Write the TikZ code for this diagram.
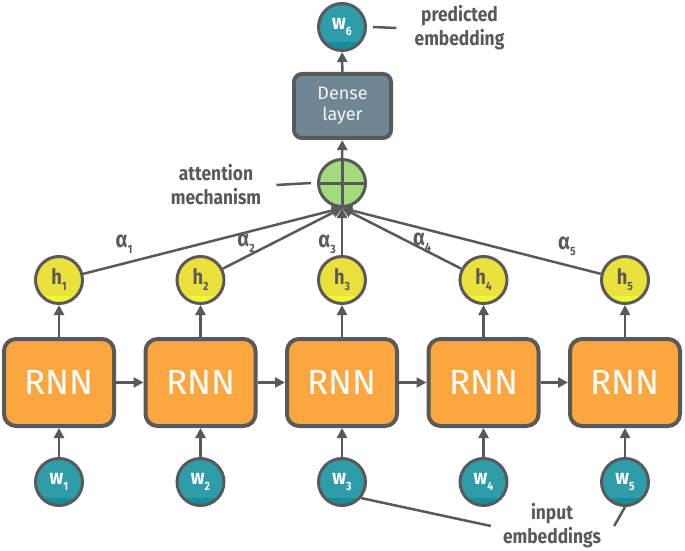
\documentclass[tikz,border=0pt]{standalone}
\usepackage{fontspec}
\setmainfont{Fira Sans}
\newfontfamily\tagfont[FakeStretch=0.87]{Fira Sans}
\usetikzlibrary{arrows.meta}

\definecolor{edgegray}{HTML}{595959}
\definecolor{rnnorange}{HTML}{FBA63E}
\definecolor{hyellow}{HTML}{EBE13C}
\definecolor{hband}{HTML}{EEF63A}
\definecolor{wteal}{HTML}{2E9DA9}
\definecolor{wband}{HTML}{138F9C}
\definecolor{attgreen}{HTML}{A2DA7E}
\definecolor{densegray}{HTML}{6F8794}

% letter with a small lowered index
\newcommand{\vsub}[2]{#1\raisebox{-6pt}{\fontsize{12}{12}\selectfont #2}}

\tikzset{
  rnnbox/.style={draw=edgegray, line width=4pt, fill=rnnorange, rounded corners=12pt,
    minimum width=110pt, minimum height=87pt, text=white, font=\fontsize{35}{35}\selectfont},
  hidden/.style={circle, draw=edgegray, line width=3pt, fill=hyellow, minimum size=47pt,
    inner sep=0pt, text=edgegray, font=\tagfont\bfseries\fontsize{21}{21}\selectfont,
    path picture={\fill[hband] (path picture bounding box.south west) rectangle
      ([yshift=8pt]path picture bounding box.south east);}},
  wordvec/.style={circle, draw=edgegray, line width=3pt, fill=wteal, minimum size=47pt,
    inner sep=0pt, text=white, font=\tagfont\bfseries\fontsize{21}{21}\selectfont,
    path picture={\fill[wband] (path picture bounding box.south west) rectangle
      ([yshift=8pt]path picture bounding box.south east);}},
  attnode/.style={circle, draw=edgegray, line width=3pt, fill=attgreen, minimum size=47pt,
    path picture={\draw[edgegray, line width=3pt]
      (path picture bounding box.north) -- (path picture bounding box.south)
      (path picture bounding box.west) -- (path picture bounding box.east);}},
  densebox/.style={draw=edgegray, line width=4pt, fill=densegray, rounded corners=8pt,
    minimum width=97pt, minimum height=64pt, align=center, text=white!92!densegray,
    font=\fontsize{18}{21}\selectfont},
  conn/.style={-{Triangle[length=10pt,width=10pt]}, line width=2.5pt, draw=edgegray},
  tagline/.style={line width=2.5pt, draw=edgegray},
  tag/.style={align=center, inner sep=0pt, text=edgegray,
    font=\tagfont\bfseries\fontsize{20}{24}\selectfont},
  weight/.style={inner sep=0pt, text=edgegray, font=\tagfont\bfseries\fontsize{23}{23}\selectfont}
}

\begin{document}
\begin{tikzpicture}[x=1pt,y=1pt]
\useasboundingbox (0,0) rectangle (685,550);

% RNN cells, their inputs and hidden states
\foreach \i/\x in {1/59,2/200.5,3/342,4/483.5,5/625} {
  \node[rnnbox] (rnn\i) at (\x,167.5) {RNN};
  \node[hidden] (h\i) at (\x,270) {\vsub{h}{\i}};
  \node[wordvec] (w\i) at (\x,68) {\vsub{w}{\i}};
  \draw[conn] (w\i) -- (rnn\i);
  \draw[conn] (rnn\i) -- (h\i);
}
% recurrent links
\foreach \i/\j in {1/2,2/3,3/4,4/5}
  \draw[conn] (rnn\i) -- (rnn\j);

% attention, dense layer and output
\node[attnode] (att) at (342,367) {};
\node[densebox] (dense) at (342.5,444) {Dense\\layer};
\node[wordvec] (w6) at (342,523) {\vsub{w}{6}};
\foreach \i in {1,...,5}
  \draw[conn] (h\i) -- (att.south);
\draw[conn] (att) -- (dense);
\draw[conn] (dense) -- (w6);

% attention weights
\foreach \i/\x/\y in {1/124/306,2/246/307,3/327/306,4/422/308,5/567/304}
  \node[weight] (a\i) at (\x,\y) {\vsub{α}{\i}};

% side labels
\node[tag] (predlab) at (459.5,522) {predicted\\embedding};
\node[tag] (attlab) at (216,365) {attention\\mechanism};
\node[tag] (inlab) at (552,24) {input\\embeddings};
\draw[tagline] ([xshift=6pt]w6.east) -- ([xshift=-18pt]predlab.west);
\draw[tagline] ([xshift=-6pt]att.west) -- ([xshift=15pt]attlab.east);
\draw[tagline] (w3.-40) -- ([xshift=-12pt]inlab.west);
\draw[tagline] (w5.south) -- ([xshift=13pt]inlab.east);
\end{tikzpicture}
\end{document}
